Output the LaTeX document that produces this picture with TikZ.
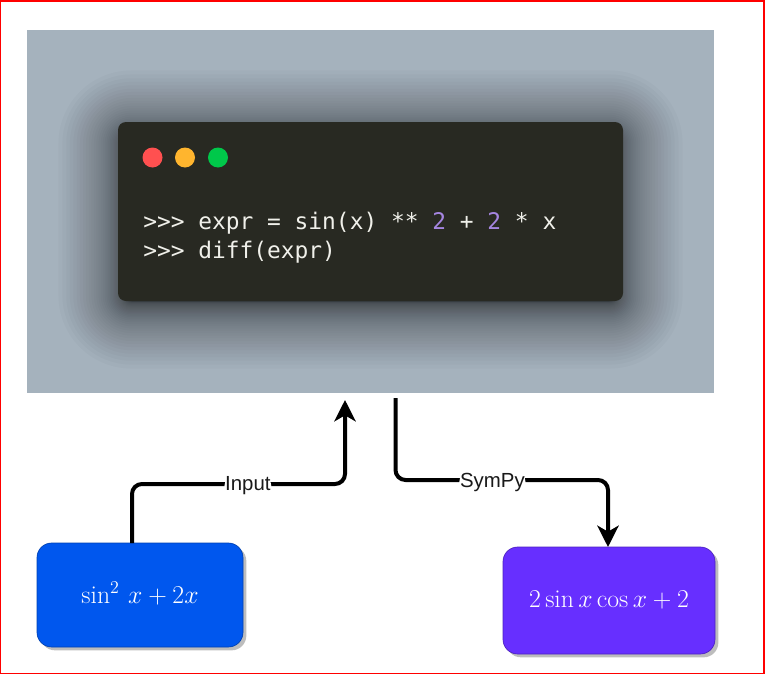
\documentclass[tikz,border=0pt]{standalone}
\usepackage{fix-cm}
\usepackage{fontspec}
\newfontfamily\labelfont{Liberation Sans}
\setmonofont{DejaVu Sans Mono}
\usepackage{amsmath}
\usetikzlibrary{arrows.meta,shadows}
\definecolor{panelgray}{HTML}{A5B2BD}
\definecolor{cardblack}{HTML}{282922}
\definecolor{codewhite}{HTML}{F0F0EA}
\definecolor{numpurple}{HTML}{A585E0}
\definecolor{dotred}{HTML}{FF5050}
\definecolor{dotyellow}{HTML}{FFB52E}
\definecolor{dotgreen}{HTML}{00C84A}
\definecolor{boxblue}{HTML}{0057EE}
\definecolor{boxpurple}{HTML}{672FFF}
\tikzset{
  dot/.style={circle, minimum size=15pt, inner sep=0pt},
  codeline/.style={anchor=base west, inner sep=0pt, text=codewhite, font=\ttfamily\fontsize{17.15}{20}\selectfont},
  mathbox/.style={draw=#1!75!black, fill=#1, text=white, rounded corners=11pt, inner sep=0pt, line width=0.5pt,
    drop shadow={shadow xshift=2.5pt, shadow yshift=-2.5pt, fill=black!65, opacity=0.4},
    font=\fontsize{19.3}{22}\selectfont},
  flow/.style={line width=3pt, rounded corners=7.5pt, -{Stealth[length=16pt, width=16pt, inset=4.5pt]}},
  flowlabel/.style={fill=white, inner sep=0.6pt, yshift=-1.5pt, font=\labelfont\fontsize{15.3}{18}\selectfont, text=black!90}
}
\begin{document}
\begin{tikzpicture}[x=0.75pt, y=-0.75pt]
  \useasboundingbox (0,0) rectangle (765,675);
  % frame
  \draw[red, line width=1.2pt] (0.5,0.8) rectangle (764,673.5);
  % panel
  \node[fill=panelgray, minimum width=515.25pt, minimum height=272.25pt, inner sep=0pt] (panel) at (370.5,211.5) {};
  % soft shadow
  \foreach \i [evaluate=\i as \r using \i*\i*0.03*\i*0.018] in {1,...,50}
    \fill[black, opacity=0.018, rounded corners=\r*0.75pt+4pt]
      (126-\r,138-\r) rectangle (615+\r,301+\r);
  % window
  \node[fill=cardblack, rounded corners=6pt, minimum width=378.75pt, minimum height=134.25pt, inner sep=0pt] (card) at (370.5,211.5) {};
  \node[dot, fill=dotred] (red) at (152.5,157.5) {};
  \node[dot, fill=dotyellow] (yellow) at (185,157.5) {};
  \node[dot, fill=dotgreen] (green) at (218,157.5) {};
  % code
  \node[codeline] (line1) at (143,229) {>{}>{}> expr = sin(x) ** {\color{numpurple}2} + {\color{numpurple}2} * x};
  \node[codeline] (line2) at (143,258) {>{}>{}> diff(expr)};
  % boxes
  \node[mathbox=boxblue, minimum width=154.5pt, minimum height=78pt] (input) at (140,595) {\raisebox{3pt}{$\sin^2\,x + 2x$}\hspace{4pt}};
  \node[mathbox=boxpurple, minimum width=159pt, minimum height=80.25pt] (output) at (609,600.5) {$2\sin x\cos x + 2$};
  % connectors
  \coordinate (inputstart) at (132,543);
  \coordinate (inputbend) at (345,484);
  \coordinate (inputend) at (345,400);
  \coordinate (sympystart) at (395.5,398);
  \coordinate (sympybend) at (608,480);
  \coordinate (sympyend) at (608,547);
  \draw[flow] (inputstart) |- node[flowlabel, pos=0.772] (inputlabel) {Input} (inputbend) -- (inputend);
  \draw[flow] (sympystart) |- node[flowlabel, pos=0.728] (sympylabel) {SymPy} (sympybend) -- (sympyend);
\end{tikzpicture}
\end{document}
